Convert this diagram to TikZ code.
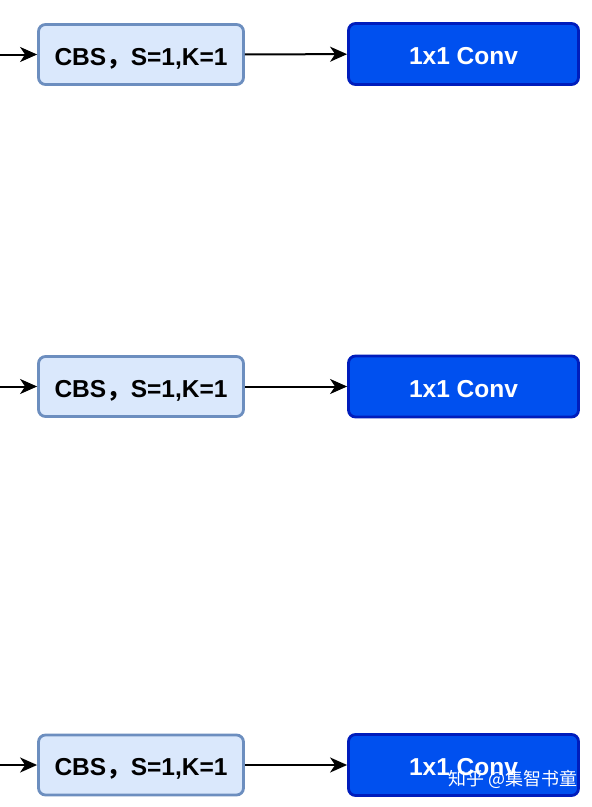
\documentclass[tikz,border=0pt]{standalone}
\usepackage{fontspec}
\setmainfont{Liberation Sans}
\newfontfamily\cjk{Noto Sans CJK SC}
\usepackage{xcolor}
\usetikzlibrary{arrows.meta}

\definecolor{cbsfill}{HTML}{DAE8FC}
\definecolor{cbsdraw}{HTML}{6C8EBF}
\definecolor{convfill}{HTML}{0050EF}
\definecolor{convdraw}{HTML}{001DBC}

\begin{document}
\begin{tikzpicture}[x=1pt, y=-1pt,
  every node/.style={rounded corners=7pt, line width=2.8pt,
    font=\fontsize{24.5}{28}\selectfont\bfseries, inner sep=0pt},
  cbs/.style={draw=cbsdraw, fill=cbsfill, minimum width=205pt, minimum height=60pt,
    text height=21.5pt, text depth=0pt},
  conv/.style={draw=convdraw, fill=convfill, text=white, minimum width=230pt, minimum height=61pt,
    text height=21.5pt, text depth=0pt},
  arr/.style={-{Stealth[length=17pt, width=15pt, inset=5pt]}, line width=2pt},
]
\useasboundingbox (0,0) rectangle (592,807);

% Row 1
\coordinate (in1) at (0,54.5);
\node (cbs1) [cbs] at (141,54.5) {CBS{\cjk ，}S=1,K=1};
\node (conv1) [conv] at (463.5,54) {1x1 Conv};
\draw[arr] (in1) -- (cbs1);
\draw[arr] (cbs1) -- (conv1);

% Row 2
\coordinate (in2) at (0,386.5);
\node (cbs2) [cbs] at (141,386.5) {CBS{\cjk ，}S=1,K=1};
\node (conv2) [conv] at (463.5,386.5) {1x1 Conv};
\draw[arr] (in2) -- (cbs2);
\draw[arr] (cbs2) -- (conv2);

% Row 3
\coordinate (in3) at (0,765);
\node (cbs3) [cbs] at (141,765) {CBS{\cjk ，}S=1,K=1};
\node (conv3) [conv] at (463.5,765) {1x1 Conv};
\draw[arr] (in3) -- (cbs3);
\draw[arr] (cbs3) -- (conv3);

% watermark
\node (mark) [draw=none, font=\cjk\fontsize{18}{20}\selectfont, text=white] at (513,779) {知乎 @集智书童};

\end{tikzpicture}
\end{document}
